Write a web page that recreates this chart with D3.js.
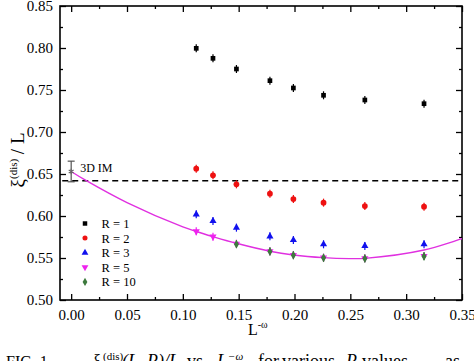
<!DOCTYPE html>
<html>
<head>
<meta charset="utf-8">
<script src="https://cdn.jsdelivr.net/npm/d3@7"></script>
<style>
  body { margin: 0; background: #fff; }
  svg { display: block; }
  svg text { font-family: "Liberation Serif", "Times New Roman", "DejaVu Serif", serif; }
</style>
</head>
<body>
<svg id="chart" width="474" height="361"></svg>
<script>
// L^-ω values for each R series
const xsAll = [0.112, 0.127, 0.148, 0.178, 0.199, 0.226, 0.263, 0.316];
const xsR10 = [0.148, 0.178, 0.199, 0.226, 0.263, 0.316];

const r1 = [0.7996, 0.7877, 0.7750, 0.7611, 0.7524, 0.7437, 0.7381, 0.7337];
const r2 = [0.6563, 0.6484, 0.6377, 0.6266, 0.6202, 0.6159, 0.6119, 0.6111];
const r3 = [0.6020, 0.5940, 0.5861, 0.5758, 0.5714, 0.5663, 0.5643, 0.5663];
const r5 = [0.5817, 0.5754, 0.5670, 0.5580, 0.5536, 0.5504, 0.5496, 0.5524];
const r10 = [0.5665, 0.5578, 0.5533, 0.5502, 0.5494, 0.5520];

// 3D Ising 値と誤差
const im3d = { x: 0.0, y: 0.6530, err: 0.0123 };
const dashedY = 0.642;

// フィット曲線 (図から読み取った点)
const fitX = [0.000, 0.0124, 0.05, 0.10, 0.112, 0.127, 0.148, 0.178, 0.199, 0.226, 0.249, 0.263, 0.316, 0.35];
const fitY = [0.653, 0.643, 0.616, 0.587, 0.5815, 0.5754, 0.5675, 0.5580, 0.5536, 0.5504, 0.5493, 0.5496, 0.5595, 0.5732];

const xTicks = [0.00, 0.05, 0.10, 0.15, 0.20, 0.25, 0.30, 0.35];
const yTicks = [0.50, 0.55, 0.60, 0.65, 0.70, 0.75, 0.80, 0.85];

const series = [
  { name: "R = 1", xs: xsAll, ys: r1, color: "#000000", symbol: d3.symbolSquare, rot: 0 },
  { name: "R = 2", xs: xsAll, ys: r2, color: "#ee1111", symbol: d3.symbolCircle, rot: 0 },
  { name: "R = 3", xs: xsAll, ys: r3, color: "#1010ee", symbol: d3.symbolTriangle, rot: 0 },
  { name: "R = 5", xs: xsAll, ys: r5, color: "#ee22ee", symbol: d3.symbolTriangle, rot: 180 },
  { name: "R = 10", xs: xsR10, ys: r10, color: "#3d7a3d", symbol: d3.symbolDiamond, rot: 0 }
];

const FONT = "Liberation Serif";
const margin = { top: 6, right: 12, bottom: 61, left: 60 };
const width = 474, height = 361;
const svg = d3.select("#chart").attr("font-family", FONT);

const x = d3.scaleLinear().domain([-0.01, 0.35]).range([margin.left, width - margin.right]);
const y = d3.scaleLinear().domain([0.50, 0.85]).range([height - margin.bottom, margin.top]);

// 補助目盛り
const xMinor = d3.range(0.025, 0.35, 0.05);
const yMinor = d3.range(0.525, 0.85, 0.05);

function styleAxis(g) {
  g.attr("font-family", FONT).attr("font-size", null);
  g.select(".domain").remove();
  g.selectAll("line").attr("stroke", "#000").attr("stroke-width", 1.3);
  g.selectAll("text").attr("font-size", 15).attr("font-family", FONT).attr("fill", "#000");
}

// bottom
svg.append("g")
  .attr("transform", `translate(0,${y(0.50)})`)
  .call(d3.axisBottom(x).tickValues(xTicks).tickSize(-6).tickPadding(9).tickFormat(d3.format(".2f")))
  .call(styleAxis);
svg.append("g")
  .attr("transform", `translate(0,${y(0.50)})`)
  .call(d3.axisBottom(x).tickValues(xMinor).tickSize(-3).tickFormat(""))
  .call(styleAxis);
// top
svg.append("g")
  .attr("transform", `translate(0,${y(0.85)})`)
  .call(d3.axisTop(x).tickValues(xTicks).tickSize(-6).tickFormat(""))
  .call(styleAxis);
svg.append("g")
  .attr("transform", `translate(0,${y(0.85)})`)
  .call(d3.axisTop(x).tickValues(xMinor).tickSize(-3).tickFormat(""))
  .call(styleAxis);
// left
svg.append("g")
  .attr("transform", `translate(${x(-0.01)},0)`)
  .call(d3.axisLeft(y).tickValues(yTicks).tickSize(-6).tickPadding(7).tickFormat(d3.format(".2f")))
  .call(styleAxis);
svg.append("g")
  .attr("transform", `translate(${x(-0.01)},0)`)
  .call(d3.axisLeft(y).tickValues(yMinor).tickSize(-3).tickFormat(""))
  .call(styleAxis);
// right
svg.append("g")
  .attr("transform", `translate(${x(0.35)},0)`)
  .call(d3.axisRight(y).tickValues(yTicks).tickSize(-6).tickFormat(""))
  .call(styleAxis);
svg.append("g")
  .attr("transform", `translate(${x(0.35)},0)`)
  .call(d3.axisRight(y).tickValues(yMinor).tickSize(-3).tickFormat(""))
  .call(styleAxis);

// 枠
svg.append("rect")
  .attr("x", x(-0.01)).attr("y", y(0.85))
  .attr("width", x(0.35) - x(-0.01)).attr("height", y(0.50) - y(0.85))
  .attr("fill", "none").attr("stroke", "#000").attr("stroke-width", 1.6);

// 3D IM の破線
svg.append("line")
  .attr("x1", x(-0.008)).attr("x2", x(0.35))
  .attr("y1", y(dashedY)).attr("y2", y(dashedY))
  .attr("stroke", "#000").attr("stroke-width", 1.5)
  .attr("stroke-dasharray", "6,4");

// フィット曲線
const fitPts = fitX.map((d, i) => [d, fitY[i]]);
svg.append("path")
  .datum(fitPts)
  .attr("fill", "none")
  .attr("stroke", "#e030e0")
  .attr("stroke-width", 1.4)
  .attr("d", d3.line().x(d => x(d[0])).y(d => y(d[1])).curve(d3.curveCatmullRom));

// 各系列のマーカー
series.forEach(s => {
  const g = svg.append("g");
  const pts = s.xs.map((d, i) => [d, s.ys[i]]);
  // 小さな誤差棒
  g.selectAll("line")
    .data(pts)
    .enter()
    .append("line")
    .attr("x1", d => x(d[0])).attr("x2", d => x(d[0]))
    .attr("y1", d => y(d[1]) - 4).attr("y2", d => y(d[1]) + 4)
    .attr("stroke", s.color).attr("stroke-width", 1.2);
  g.selectAll("path")
    .data(pts)
    .enter()
    .append("path")
    .attr("transform", d => `translate(${x(d[0])},${y(d[1])}) rotate(${s.rot})`)
    .attr("d", d3.symbol().type(s.symbol).size(s.symbol === d3.symbolCircle ? 26 : 22))
    .attr("fill", s.color);
});

// 3D IM 点と誤差棒
const ix = x(im3d.x);
const eg = svg.append("g").attr("stroke", "#444").attr("stroke-width", 1.1);
eg.append("line").attr("x1", ix).attr("x2", ix).attr("y1", y(im3d.y + im3d.err)).attr("y2", y(im3d.y - im3d.err));
eg.append("line").attr("x1", ix - 3.5).attr("x2", ix + 3.5).attr("y1", y(im3d.y + im3d.err)).attr("y2", y(im3d.y + im3d.err));
eg.append("line").attr("x1", ix - 3.5).attr("x2", ix + 3.5).attr("y1", y(im3d.y - im3d.err)).attr("y2", y(im3d.y - im3d.err));
svg.append("path")
  .attr("transform", `translate(${ix},${y(im3d.y)})`)
  .attr("d", d3.symbol().type(d3.symbolAsterisk).size(22))
  .attr("fill", "none").attr("stroke", "#666").attr("stroke-width", 1.2);
svg.append("text")
  .attr("x", ix + 9).attr("y", y(im3d.y) + 0.5)
  .attr("font-size", 12).text("3D IM");

// 凡例
const legend = svg.append("g");
series.forEach((s, i) => {
  const ly = 223.5 + i * 14.6;
  legend.append("path")
    .attr("transform", `translate(85,${ly}) rotate(${s.rot})`)
    .attr("d", d3.symbol().type(s.symbol).size(20))
    .attr("fill", s.color);
  legend.append("text")
    .attr("x", 101.5).attr("y", ly + 4.5)
    .attr("font-size", 12.5).text(s.name);
});

// 軸ラベル
const xl = svg.append("text")
  .attr("x", 248).attr("y", 335)
  .attr("font-size", 16);
xl.append("tspan").text("L");
xl.append("tspan").attr("dy", -7).attr("font-size", 10).text("-ω");

const yl = svg.append("text")
  .attr("transform", "translate(24,160) rotate(-90)")
  .attr("text-anchor", "middle")
  .attr("font-size", 19);
yl.append("tspan").text("ξ");
yl.append("tspan").attr("dy", -7).attr("font-size", 11).text("(dis)");
yl.append("tspan").attr("dy", 7).text(" / L");

// キャプション (下端で切れている)
const capY = 367;
const caption = [
  { x: 6, t: "FIG. 1.", size: 16 },
  { x: 92, t: "ξ", it: true },
  { x: 103, t: "(dis)", size: 11, dy: -7 },
  { x: 122, t: "(L, R)/L", it: true },
  { x: 187, t: "vs." },
  { x: 217, t: "L", it: true },
  { x: 228, t: "−ω", size: 11, dy: -7, it: true },
  { x: 258, t: "for" },
  { x: 282, t: "various" },
  { x: 346, t: "R", it: true },
  { x: 362, t: "values," },
  { x: 445, t: "as" }
];
svg.append("g").selectAll("text")
  .data(caption)
  .enter()
  .append("text")
  .attr("x", d => d.x)
  .attr("y", d => capY + (d.dy || 0))
  .attr("font-size", d => d.size || 18)
  .attr("font-style", d => d.it ? "italic" : null)
  .text(d => d.t);
</script>
</body>
</html>
